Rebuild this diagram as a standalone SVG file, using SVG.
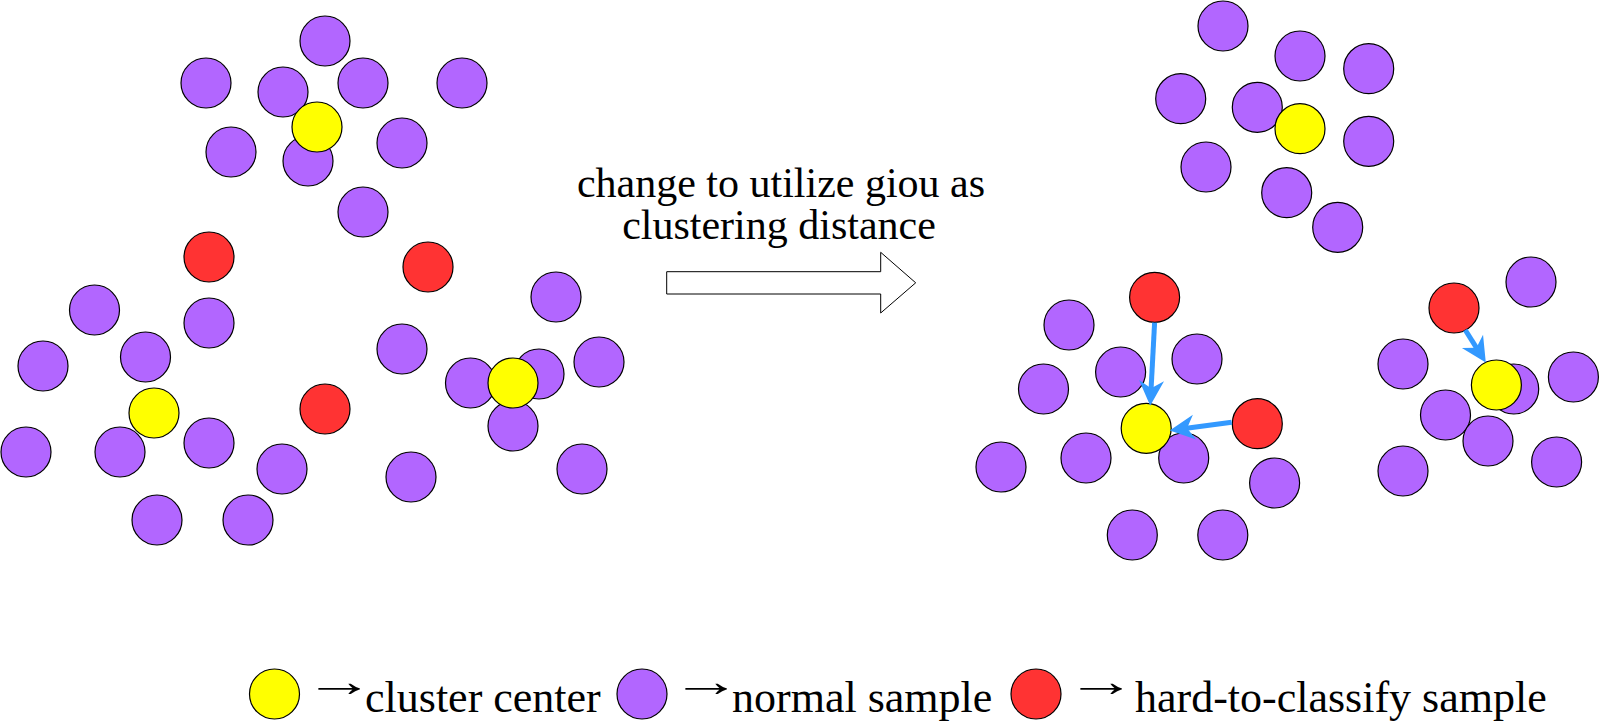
<svg xmlns="http://www.w3.org/2000/svg" width="1600" height="722" viewBox="0 0 1600 722">
<defs>
<style>
.p{fill:#B266FF;stroke:#000;stroke-width:1.2}
.r{fill:#FF3333;stroke:#000;stroke-width:1.2}
.y{fill:#FFFF00;stroke:#000;stroke-width:1.2}
text{font-family:'Liberation Serif','Times New Roman',serif;fill:#000}
.title{font-size:42px}
.leg{font-size:44px}
.ba{fill:none;stroke:#3399FF;stroke-width:5}
</style>
<marker id="ah" markerUnits="userSpaceOnUse" markerWidth="30" markerHeight="30" refX="0" refY="0" viewBox="-10 -12 24 24" orient="auto" overflow="visible">
<path d="M12,0 L-8,-10 L-2,0 L-8,10 Z" fill="#3399FF"/>
</marker>
</defs>
<rect width="1600" height="722" fill="#fff"/>

<g id="before-cluster-top">
<circle class="p" cx="325" cy="41" r="25"/>
<circle class="p" cx="206" cy="83" r="25"/>
<circle class="p" cx="283" cy="92" r="25"/>
<circle class="p" cx="363" cy="83" r="25"/>
<circle class="p" cx="462" cy="83" r="25"/>
<circle class="p" cx="231" cy="152" r="25"/>
<circle class="p" cx="308" cy="161" r="25"/>
<circle class="p" cx="402" cy="143" r="25"/>
<circle class="p" cx="363" cy="212" r="25"/>
<circle class="y" cx="317" cy="127" r="25"/>
</g>
<g id="before-cluster-left">
<circle class="p" cx="94.5" cy="310" r="25"/>
<circle class="p" cx="209" cy="323" r="25"/>
<circle class="p" cx="43" cy="366" r="25"/>
<circle class="p" cx="145.5" cy="357" r="25"/>
<circle class="p" cx="26" cy="452" r="25"/>
<circle class="p" cx="120" cy="452" r="25"/>
<circle class="p" cx="209" cy="443" r="25"/>
<circle class="p" cx="282" cy="469" r="25"/>
<circle class="p" cx="157" cy="520" r="25"/>
<circle class="p" cx="248" cy="520" r="25"/>
<circle class="y" cx="154" cy="413" r="25"/>
</g>
<g id="before-cluster-right">
<circle class="p" cx="556" cy="297" r="25"/>
<circle class="p" cx="402" cy="349" r="25"/>
<circle class="p" cx="470.5" cy="383" r="25"/>
<circle class="p" cx="539" cy="374" r="25"/>
<circle class="p" cx="599" cy="362" r="25"/>
<circle class="p" cx="513" cy="426" r="25"/>
<circle class="p" cx="411" cy="477" r="25"/>
<circle class="p" cx="582" cy="469" r="25"/>
<circle class="y" cx="513" cy="383" r="25"/>
</g>
<g id="before-hard">
<circle class="r" cx="209" cy="257" r="25"/>
<circle class="r" cx="428" cy="267" r="25"/>
<circle class="r" cx="325" cy="409" r="25"/>
</g>

<g id="transition">
<path d="M666.7,271.7 H880.7 V252.3 L915.7,282.8 L880.7,313 V294 H666.7 Z" fill="#fff" stroke="#000" stroke-width="1"/>
<text class="title" text-anchor="middle"><tspan x="781" y="197">change to utilize giou as</tspan><tspan x="779" y="239">clustering distance</tspan></text>
</g>

<g id="after-cluster-top">
<circle class="p" cx="1223" cy="26" r="25"/>
<circle class="p" cx="1300" cy="56" r="25"/>
<circle class="p" cx="1368.7" cy="68.7" r="25"/>
<circle class="p" cx="1180.7" cy="98.7" r="25"/>
<circle class="p" cx="1257.3" cy="107.3" r="25"/>
<circle class="p" cx="1368.7" cy="141.3" r="25"/>
<circle class="p" cx="1206" cy="167" r="25"/>
<circle class="p" cx="1286.7" cy="192.7" r="25"/>
<circle class="p" cx="1337.7" cy="227.3" r="25"/>
<circle class="y" cx="1300" cy="128.7" r="25"/>
</g>
<g id="after-cluster-left">
<circle class="p" cx="1069" cy="325" r="25"/>
<circle class="p" cx="1197" cy="359" r="25"/>
<circle class="p" cx="1120.6" cy="372" r="25"/>
<circle class="p" cx="1043.5" cy="389" r="25"/>
<circle class="p" cx="1001" cy="467" r="25"/>
<circle class="p" cx="1086" cy="458" r="25"/>
<circle class="p" cx="1183.7" cy="458" r="25"/>
<circle class="p" cx="1274.6" cy="483" r="25"/>
<circle class="p" cx="1132.3" cy="535" r="25"/>
<circle class="p" cx="1222.8" cy="535" r="25"/>
<circle class="r" cx="1154.6" cy="297.3" r="25"/>
<circle class="r" cx="1257.3" cy="423.7" r="25"/>
<circle class="y" cx="1146.2" cy="428.3" r="25"/>
</g>
<g id="after-cluster-right">
<circle class="p" cx="1531" cy="282" r="25"/>
<circle class="p" cx="1403" cy="364" r="25"/>
<circle class="p" cx="1513.7" cy="389" r="25"/>
<circle class="p" cx="1573.4" cy="377" r="25"/>
<circle class="p" cx="1445.5" cy="415" r="25"/>
<circle class="p" cx="1488" cy="441" r="25"/>
<circle class="p" cx="1403" cy="471" r="25"/>
<circle class="p" cx="1556.6" cy="462" r="25"/>
<circle class="r" cx="1454" cy="308" r="25"/>
<circle class="y" cx="1496.4" cy="385" r="25"/>
</g>

<g id="connectors">
<path class="ba" d="M1154.6,322.7 L1151,390.7" marker-end="url(#ah)"/>
<path class="ba" d="M1231.7,422.3 L1184.6,428.5" marker-end="url(#ah)"/>
<path class="ba" d="M1465.3,330 L1477.8,349.8" marker-end="url(#ah)"/>
</g>

<g id="legend">
<circle class="y" cx="274.5" cy="694" r="25"/>
<text class="leg" transform="translate(304,696) scale(1.6,1)">→</text>
<text class="leg" x="365" y="712">cluster center</text>
<circle class="p" cx="642" cy="694" r="25"/>
<text class="leg" transform="translate(671,696) scale(1.6,1)">→</text>
<text class="leg" x="732" y="712">normal sample</text>
<circle class="r" cx="1036" cy="694" r="25"/>
<text class="leg" transform="translate(1066,696) scale(1.6,1)">→</text>
<text class="leg" x="1135" y="712">hard-to-classify sample</text>
</g>
</svg>
